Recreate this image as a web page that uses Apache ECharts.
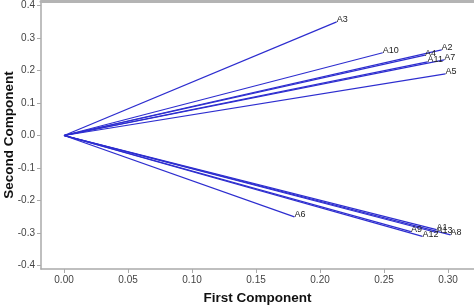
<!DOCTYPE html>
<html>
<head>
<meta charset="utf-8">
<script src="https://cdn.jsdelivr.net/npm/echarts@6/dist/echarts.min.js"></script>
<style>
  html, body { margin: 0; padding: 0; background: #fff; }
  #chart { width: 474px; height: 305px; }
</style>
</head>
<body>
<div id="chart"></div>
<script>
// loadings
var names = ['A1', 'A2', 'A3', 'A4', 'A5', 'A6', 'A7', 'A8', 'A9', 'A10', 'A11', 'A12', 'A13']
var firstComp = [0.291, 0.295, 0.213, 0.282, 0.298, 0.180, 0.297, 0.302, 0.271, 0.249, 0.284, 0.280, 0.291]
var secondComp = [-0.289, 0.263, 0.349, 0.247, 0.189, -0.250, 0.232, -0.305, -0.295, 0.254, 0.226, -0.31, -0.298]
var xTicks = [0, 0.05, 0.10, 0.15, 0.20, 0.25, 0.30]
var yTicks = [-0.4, -0.3, -0.2, -0.1, 0, 0.1, 0.2, 0.3, 0.4]

var chart = echarts.init(document.getElementById('chart'))

var series = names.map(function (n, i) {
  return {
    name: n,
    type: 'line',
    symbol: 'none',
    animation: false,
    lineStyle: { color: '#2d2dcf', width: 1.2 },
    endLabel: {
      show: true,
      formatter: n,
      distance: 0,
      offset: [0, -2],
      color: '#222',
      fontSize: 9,
      fontFamily: 'Liberation Sans'
    },
    data: [[0, 0], [firstComp[i], secondComp[i]]]
  }
})

chart.setOption({
  backgroundColor: '#fff',
  grid: { left: 41, right: 0, top: 1, bottom: 36, outerBoundsMode: 'none', containLabel: false },
  xAxis: [{
    type: 'value',
    min: -0.018,
    max: 0.3203,
    name: 'First Component',
    nameLocation: 'middle',
    nameGap: 22,
    nameTextStyle: { fontSize: 13.5, fontWeight: 'bold', color: '#111', fontFamily: 'Liberation Sans' },
    splitLine: { show: false },
    axisLine: { onZero: false, lineStyle: { color: '#aaa', width: 1.5 } },
    axisTick: { show: true, length: 4, lineStyle: { color: '#aaa' }, customValues: xTicks },
    axisLabel: {
      color: '#444', fontSize: 10, fontFamily: 'Liberation Sans', margin: 6,
      customValues: xTicks,
      formatter: function (v) { return v.toFixed(2) }
    }
  }, {
    type: 'value',
    position: 'top',
    min: -0.018,
    max: 0.3203,
    splitLine: { show: false },
    axisLine: { show: true, onZero: false, lineStyle: { color: '#b4b4b4', width: 3 } },
    axisTick: { show: false },
    axisLabel: { show: false }
  }],
  yAxis: {
    type: 'value',
    min: -0.41,
    max: 0.413,
    name: 'Second Component',
    nameLocation: 'middle',
    nameGap: 25,
    nameMoveOverlap: false,
    nameTextStyle: { fontSize: 13.5, fontWeight: 'bold', color: '#111', fontFamily: 'Liberation Sans' },
    splitLine: { show: false },
    axisLine: { show: true, onZero: false, lineStyle: { color: '#aaa', width: 1.5 } },
    axisTick: { show: true, length: 4, lineStyle: { color: '#aaa' }, customValues: yTicks },
    axisLabel: {
      color: '#444', fontSize: 10, fontFamily: 'Liberation Sans', margin: 6,
      customValues: yTicks,
      formatter: function (v) { return v.toFixed(1) }
    }
  },
  series: series
})
</script>
</body>
</html>
